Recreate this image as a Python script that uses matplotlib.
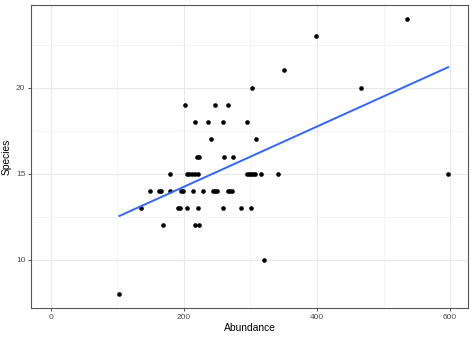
import numpy as np
import matplotlib
matplotlib.use("Agg")
import matplotlib.pyplot as plt

abundance = [103, 320,
             168, 216, 222,
             135, 191, 194, 205, 221, 259, 285, 301,
             149, 162, 166, 179, 195, 198, 213, 229, 243, 246, 249, 266, 269, 272,
             179, 204, 208, 212, 216, 221, 295, 298, 301, 304, 307, 316, 342, 597,
             220, 222, 260, 274,
             240, 308,
             217, 236, 259, 295,
             201, 246, 266,
             303, 466,
             350, 399, 535]
species = [8, 10,
           12, 12, 12,
           13, 13, 13, 13, 13, 13, 13, 13,
           14, 14, 14, 14, 14, 14, 14, 14, 14, 14, 14, 14, 14, 14,
           15, 15, 15, 15, 15, 15, 15, 15, 15, 15, 15, 15, 15, 15,
           16, 16, 16, 16,
           17, 17,
           18, 18, 18, 18,
           19, 19, 19,
           20, 20,
           21, 23, 24]
x_ticks = [0, 200, 400, 600]
y_ticks = [10, 15, 20]

plt.rcParams['font.family'] = ['Liberation Sans', 'DejaVu Sans']

x = np.array(abundance, dtype=float)
y = np.array(species, dtype=float)

fig = plt.figure(figsize=(4.74, 3.38), dpi=100)
ax = fig.add_axes([31/474, 30/338, 437/474, 303/338])

xr = [0, x.max()]
pad_x = 0.05 * (xr[1] - xr[0])
ax.set_xlim(xr[0] - pad_x, xr[1] + pad_x)
pad_y = 0.05 * (y.max() - y.min())
ax.set_ylim(y.min() - pad_y, y.max() + pad_y)

ax.set_xticks(x_ticks)
ax.set_yticks(y_ticks)
ax.set_xticks([100, 300, 500], minor=True)
ax.set_yticks([12.5, 17.5, 22.5], minor=True)
ax.grid(which='major', color='#E8E8E8', linewidth=0.8, zorder=0)
ax.grid(which='minor', color='#EDEDED', linewidth=0.4, zorder=0)
ax.set_axisbelow(True)
ax.tick_params(which='minor', length=0)
ax.tick_params(which='major', length=2.5, width=0.6, color='#333333',
               labelcolor='#4D4D4D', labelsize=6, pad=1.5)
for s in ax.spines.values():
    s.set_color('#555555')
    s.set_linewidth(0.8)

ax.scatter(x, y, s=11, color='black', linewidths=0, zorder=3)

b, a = np.polyfit(x, y, 1)
xs = np.array([x.min(), x.max()])
ax.plot(xs, a + b * xs, color='#3366FF', linewidth=1.4, zorder=4)

ax.set_xlabel('Abundance', fontsize=7.4, color='black', labelpad=2)
ax.set_ylabel('Species', fontsize=7.4, color='black', labelpad=3)

fig.savefig('out.png', dpi=100)
